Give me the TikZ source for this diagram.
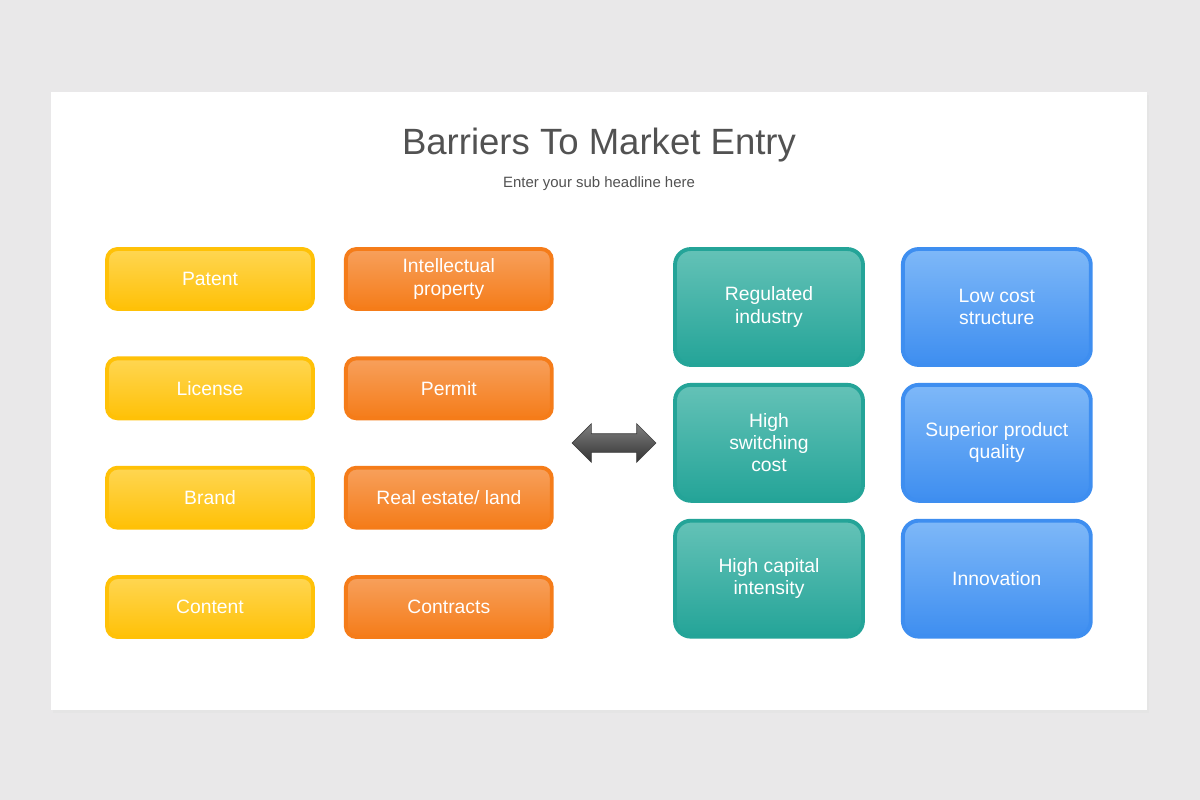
\documentclass[tikz,border=0pt]{standalone}
\usepackage{fontspec}
\setmainfont{Liberation Sans}
\usetikzlibrary{positioning,shapes.arrows}
\definecolor{pagegray}{RGB}{233,232,233}
\definecolor{titlegray}{RGB}{82,82,82}
\definecolor{yellowdark}{RGB}{255,193,7}
\definecolor{yellowlight}{RGB}{255,214,82}
\definecolor{orangedark}{RGB}{245,124,25}
\definecolor{orangelight}{RGB}{247,160,92}
\definecolor{tealdark}{RGB}{36,164,152}
\definecolor{teallight}{RGB}{100,194,183}
\definecolor{bluedark}{RGB}{62,142,240}
\definecolor{bluelight}{RGB}{126,184,248}

\begin{document}
\begin{tikzpicture}[x=0.02cm, y=-0.02cm,
  box/.style={line width=2.2pt, align=center, inner sep=2pt,
              text=white, font=\fontsize{11}{12.6}\selectfont},
  wide/.style={box, rounded corners=6pt, minimum width=4.12cm, minimum height=1.2cm},
  tall/.style={box, rounded corners=9pt, minimum width=3.76cm, minimum height=2.32cm},
  yellowbox/.style={wide, draw=yellowdark, top color=yellowlight, bottom color=yellowdark},
  orangebox/.style={wide, draw=orangedark, top color=orangelight, bottom color=orangedark},
  tealbox/.style={tall, draw=tealdark, top color=teallight, bottom color=tealdark},
  bluebox/.style={tall, draw=bluedark, top color=bluelight, bottom color=bluedark}
]
% page and card
\fill[pagegray] (0,0) rectangle (1200,800);
\fill[black!10] (53,95) rectangle (1149,713);
\fill[white] (51,92) rectangle (1147,710);

\node[font=\fontsize{20.8}{25}\selectfont, text=titlegray] (title) at (599,145) {Barriers To Market Entry};
\node[font=\fontsize{8.5}{10}\selectfont, text=titlegray] (subtitle) at (599,184) {Enter your sub headline here};

% left block
\node[yellowbox] (patent) at (210,279) {Patent};
\node[yellowbox, below=0.91cm of patent]  (license) {License};
\node[yellowbox, below=0.91cm of license] (brand)   {Brand};
\node[yellowbox, below=0.91cm of brand]   (content) {Content};
\node[orangebox, right=0.58cm of patent]  (intprop) {Intellectual\\property};
\node[orangebox, right=0.58cm of license] (permit)  {Permit};
\node[orangebox, right=0.58cm of brand]   (estate)  {Real estate/ land};
\node[orangebox, right=0.58cm of content] (contracts) {Contracts};

% right block
\node[tealbox] (regulated) at (769,307) {Regulated\\industry};
\node[tealbox, below=0.32cm of regulated] (switching) {High\\switching\\cost};
\node[tealbox, below=0.32cm of switching] (capital)   {High capital\\intensity};
\node[bluebox, right=0.72cm of regulated] (lowcost)   {Low cost\\structure};
\node[bluebox, right=0.72cm of switching] (quality)   {Superior product\\quality};
\node[bluebox, right=0.72cm of capital]   (innovation) {Innovation};

% swap arrow
\node[double arrow, double arrow head extend=0.2cm, minimum width=0.76cm,
      minimum height=1.68cm, inner xsep=0pt, inner ysep=0.18cm, draw=black!75, line width=0.4pt,
      top color=black!50, bottom color=black!80] (swap) at (614,443) {};
\end{tikzpicture}
\end{document}
